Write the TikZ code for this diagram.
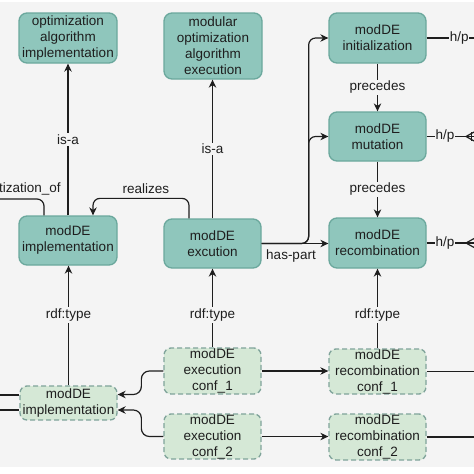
\documentclass[tikz,border=0pt]{standalone}
\usepackage{fontspec}
\setmainfont{Liberation Sans}
\usetikzlibrary{arrows.meta,calc}
\definecolor{bg}{HTML}{F4F4F4}
\definecolor{tealfill}{HTML}{8FC6BC}
\definecolor{tealdraw}{HTML}{6BA89D}
\definecolor{greenfill}{HTML}{D5E8D6}
\definecolor{greendraw}{HTML}{7FA39A}
\definecolor{ink}{HTML}{1E1E1E}
\begin{document}
\begin{tikzpicture}[x=1pt,y=-1pt,
  font=\fontsize{13.5}{16}\selectfont,
  solidbox/.style={draw=tealdraw, fill=tealfill, line width=1.3pt, rounded corners=8pt, align=center, inner sep=0pt, text=ink},
  dashbox/.style={draw=greendraw, fill=greenfill, line width=1.3pt, dash pattern=on 5pt off 3pt, rounded corners=7pt, align=center, inner sep=0pt, text=ink},
  conn/.style={draw=ink, line width=1.2pt},
  arr/.style={conn, -{Stealth[length=8pt,width=7.5pt]}},
  lbl/.style={fill=bg, inner sep=1.5pt, text=ink},
]
\useasboundingbox (0,0) rectangle (474,474);
\clip (0,0) rectangle (474,474);
\fill[white] (0,0) rectangle (474,474);
\fill[bg] (0,2) rectangle (474,467);

% top row
\node[solidbox, minimum width=98pt, minimum height=50pt] (topL) at (68,38) {optimization\\algorithm\\implementation};
\node[solidbox, minimum width=98pt, minimum height=66pt] (topM) at (213,46) {modular\\optimization\\algorithm\\execution};
\node[solidbox, minimum width=97pt, minimum height=50pt] (init) at (377.5,38) {modDE\\initialization};
\node[solidbox, minimum width=97pt, minimum height=49pt] (mut) at (377.5,136.5) {modDE\\mutation};
\node[solidbox, minimum width=97pt, minimum height=50pt] (rec) at (377.5,243) {modDE\\recombination};
\node[solidbox, minimum width=98pt, minimum height=49pt] (impl) at (68,240.5) {modDE\\implementation};
\node[solidbox, minimum width=97pt, minimum height=49pt] (exec) at (212.5,243.5) {modDE\\excution};

% dashed instances
\node[dashbox, minimum width=97pt, minimum height=34pt] (dimpl) at (68.5,403) {modDE\\implementation};
\node[dashbox, minimum width=97pt, minimum height=46pt] (ec1) at (212.5,371) {modDE\\execution\\conf\_1};
\node[dashbox, minimum width=97pt, minimum height=45pt] (ec2) at (212.5,436.5) {modDE\\execution\\conf\_2};
\node[dashbox, minimum width=97pt, minimum height=45pt] (rc1) at (377.5,371.5) {modDE\\recombination\\conf\_1};
\node[dashbox, minimum width=97pt, minimum height=46pt] (rc2) at (377.5,437) {modDE\\recombination\\conf\_2};

% is-a
\draw[arr] (impl.north) -- (topL.south) node[lbl, midway] {is-a};
\draw[arr] (exec.north) -- (exec.north |- topM.south) node[lbl, midway] {is-a};

% realizes
\draw[arr, rounded corners=7pt] ([xshift=-23.5pt]exec.north) -- ++(0,-20) -| ([xshift=25pt]impl.north);
\node[text=ink] at (146,189) {realizes};

% concretization_of (cut at the edge)
\coordinate (edgeA) at (-2,199);
\draw[conn, rounded corners=7pt] ([xshift=-24pt]impl.north) |- (edgeA);
\node[anchor=west, inner sep=0pt, text=ink] at (-1,189) {tization\_of};

% has-part
\draw[arr] (exec.east) -- (exec.east -| rec.west);
\draw[arr, rounded corners=7pt] (exec.east) -- ++(47,0) |- (init.west);
\draw[arr, rounded corners=7pt] (exec.east) -- ++(47,0) |- (mut.west);
\node[text=ink] at (291,256) {has-part};

% precedes
\draw[arr] (init.south) -- (mut.north) node[lbl, midway] {precedes};
\draw[arr] (mut.south) -- (rec.north) node[lbl, midway] {precedes};

% h/p
\coordinate (hp1) at (476,38);
\coordinate (hp2) at (476,136.5);
\coordinate (hp3) at (476,243);
\draw[conn] (init.east) -- (hp1) node[lbl, inner sep=0.5pt, pos=0.66] {h/p};
\draw[conn] (mut.east) -- (hp2) node[lbl, inner sep=0.5pt, pos=0.37] {h/p};
\draw[conn] (rec.east) -- (hp3) node[lbl, inner sep=0.5pt, pos=0.37] {h/p};
\draw[conn] (475,131.5) -- (466,136.5) -- (475,141.5);
\draw[conn] (471.5,132) -- (471.5,141);
\draw[conn] (475,238) -- (466,243) -- (475,248);

% rdf:type
\draw[arr] (dimpl.north) -- (dimpl.north |- impl.south) node[lbl, pos=0.59] {rdf:type};
\draw[arr] (ec1.north) -- (exec.south) node[lbl, pos=0.41] {rdf:type};
\draw[arr] (rc1.north) -- (rec.south) node[lbl, pos=0.42] {rdf:type};

% instance links
\draw[arr, rounded corners=8pt] (ec1.west) -- ++(-22,0) |- ([yshift=8.5pt]dimpl.east);
\draw[arr, rounded corners=8pt] (ec2.west) -- ++(-22,0) |- ([yshift=-7pt]dimpl.east);
\draw[arr] (ec1.east) -- (ec1.east -| rc1.west);
\draw[arr] (ec2.east) -- (ec2.east -| rc2.west);
\coordinate (r1) at (476,371.5);
\coordinate (r2) at (476,437);
\draw[conn] (rc1.east) -- (r1);
\draw[conn] (rc2.east) -- (r2);
\coordinate (l1) at (-2,395);
\coordinate (l2) at (-2,410);
\draw[conn] (l1) -- (l1 -| dimpl.west);
\draw[conn] (l2) -- (l2 -| dimpl.west);
\end{tikzpicture}
\end{document}
